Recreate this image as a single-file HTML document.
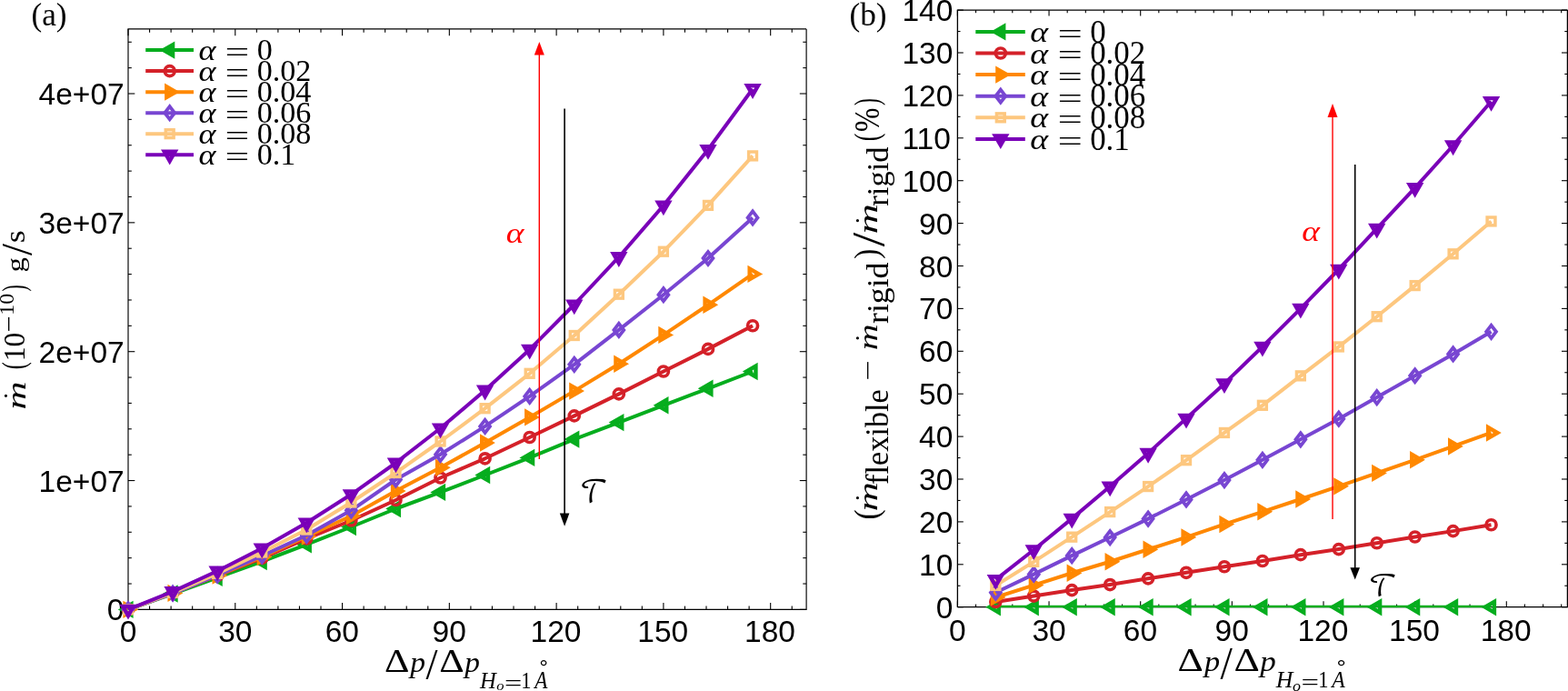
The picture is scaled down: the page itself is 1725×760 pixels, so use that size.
<!DOCTYPE html>
<html><head><meta charset="utf-8"><title>figure</title>
<style>html,body{margin:0;padding:0;background:#fff;overflow:hidden;} svg{display:block;}</style></head>
<body><svg width="1725" height="760" viewBox="0 0 1725 760">
<defs><clipPath id="cl"><rect x="140.4" y="31.9" width="746.7" height="639.1"/></clipPath><clipPath id="cr"><rect x="1052.8000000000002" y="11.1" width="671.6" height="657.1"/></clipPath></defs>
<rect width="1725" height="760" fill="#fff"/>
<line x1="141.00" y1="670.4" x2="141.00" y2="663.1" stroke="#000" stroke-width="1.1"/><line x1="141.00" y1="31.9" x2="141.00" y2="39.199999999999996" stroke="#000" stroke-width="1.1"/><line x1="164.56" y1="670.4" x2="164.56" y2="666.6" stroke="#000" stroke-width="1.1"/><line x1="164.56" y1="31.9" x2="164.56" y2="35.699999999999996" stroke="#000" stroke-width="1.1"/><line x1="188.11" y1="670.4" x2="188.11" y2="666.6" stroke="#000" stroke-width="1.1"/><line x1="188.11" y1="31.9" x2="188.11" y2="35.699999999999996" stroke="#000" stroke-width="1.1"/><line x1="211.67" y1="670.4" x2="211.67" y2="666.6" stroke="#000" stroke-width="1.1"/><line x1="211.67" y1="31.9" x2="211.67" y2="35.699999999999996" stroke="#000" stroke-width="1.1"/><line x1="235.22" y1="670.4" x2="235.22" y2="666.6" stroke="#000" stroke-width="1.1"/><line x1="235.22" y1="31.9" x2="235.22" y2="35.699999999999996" stroke="#000" stroke-width="1.1"/><line x1="258.78" y1="670.4" x2="258.78" y2="663.1" stroke="#000" stroke-width="1.1"/><line x1="258.78" y1="31.9" x2="258.78" y2="39.199999999999996" stroke="#000" stroke-width="1.1"/><line x1="282.34" y1="670.4" x2="282.34" y2="666.6" stroke="#000" stroke-width="1.1"/><line x1="282.34" y1="31.9" x2="282.34" y2="35.699999999999996" stroke="#000" stroke-width="1.1"/><line x1="305.89" y1="670.4" x2="305.89" y2="666.6" stroke="#000" stroke-width="1.1"/><line x1="305.89" y1="31.9" x2="305.89" y2="35.699999999999996" stroke="#000" stroke-width="1.1"/><line x1="329.45" y1="670.4" x2="329.45" y2="666.6" stroke="#000" stroke-width="1.1"/><line x1="329.45" y1="31.9" x2="329.45" y2="35.699999999999996" stroke="#000" stroke-width="1.1"/><line x1="353.00" y1="670.4" x2="353.00" y2="666.6" stroke="#000" stroke-width="1.1"/><line x1="353.00" y1="31.9" x2="353.00" y2="35.699999999999996" stroke="#000" stroke-width="1.1"/><line x1="376.56" y1="670.4" x2="376.56" y2="663.1" stroke="#000" stroke-width="1.1"/><line x1="376.56" y1="31.9" x2="376.56" y2="39.199999999999996" stroke="#000" stroke-width="1.1"/><line x1="400.12" y1="670.4" x2="400.12" y2="666.6" stroke="#000" stroke-width="1.1"/><line x1="400.12" y1="31.9" x2="400.12" y2="35.699999999999996" stroke="#000" stroke-width="1.1"/><line x1="423.67" y1="670.4" x2="423.67" y2="666.6" stroke="#000" stroke-width="1.1"/><line x1="423.67" y1="31.9" x2="423.67" y2="35.699999999999996" stroke="#000" stroke-width="1.1"/><line x1="447.23" y1="670.4" x2="447.23" y2="666.6" stroke="#000" stroke-width="1.1"/><line x1="447.23" y1="31.9" x2="447.23" y2="35.699999999999996" stroke="#000" stroke-width="1.1"/><line x1="470.78" y1="670.4" x2="470.78" y2="666.6" stroke="#000" stroke-width="1.1"/><line x1="470.78" y1="31.9" x2="470.78" y2="35.699999999999996" stroke="#000" stroke-width="1.1"/><line x1="494.34" y1="670.4" x2="494.34" y2="663.1" stroke="#000" stroke-width="1.1"/><line x1="494.34" y1="31.9" x2="494.34" y2="39.199999999999996" stroke="#000" stroke-width="1.1"/><line x1="517.90" y1="670.4" x2="517.90" y2="666.6" stroke="#000" stroke-width="1.1"/><line x1="517.90" y1="31.9" x2="517.90" y2="35.699999999999996" stroke="#000" stroke-width="1.1"/><line x1="541.45" y1="670.4" x2="541.45" y2="666.6" stroke="#000" stroke-width="1.1"/><line x1="541.45" y1="31.9" x2="541.45" y2="35.699999999999996" stroke="#000" stroke-width="1.1"/><line x1="565.01" y1="670.4" x2="565.01" y2="666.6" stroke="#000" stroke-width="1.1"/><line x1="565.01" y1="31.9" x2="565.01" y2="35.699999999999996" stroke="#000" stroke-width="1.1"/><line x1="588.56" y1="670.4" x2="588.56" y2="666.6" stroke="#000" stroke-width="1.1"/><line x1="588.56" y1="31.9" x2="588.56" y2="35.699999999999996" stroke="#000" stroke-width="1.1"/><line x1="612.12" y1="670.4" x2="612.12" y2="663.1" stroke="#000" stroke-width="1.1"/><line x1="612.12" y1="31.9" x2="612.12" y2="39.199999999999996" stroke="#000" stroke-width="1.1"/><line x1="635.68" y1="670.4" x2="635.68" y2="666.6" stroke="#000" stroke-width="1.1"/><line x1="635.68" y1="31.9" x2="635.68" y2="35.699999999999996" stroke="#000" stroke-width="1.1"/><line x1="659.23" y1="670.4" x2="659.23" y2="666.6" stroke="#000" stroke-width="1.1"/><line x1="659.23" y1="31.9" x2="659.23" y2="35.699999999999996" stroke="#000" stroke-width="1.1"/><line x1="682.79" y1="670.4" x2="682.79" y2="666.6" stroke="#000" stroke-width="1.1"/><line x1="682.79" y1="31.9" x2="682.79" y2="35.699999999999996" stroke="#000" stroke-width="1.1"/><line x1="706.34" y1="670.4" x2="706.34" y2="666.6" stroke="#000" stroke-width="1.1"/><line x1="706.34" y1="31.9" x2="706.34" y2="35.699999999999996" stroke="#000" stroke-width="1.1"/><line x1="729.90" y1="670.4" x2="729.90" y2="663.1" stroke="#000" stroke-width="1.1"/><line x1="729.90" y1="31.9" x2="729.90" y2="39.199999999999996" stroke="#000" stroke-width="1.1"/><line x1="753.46" y1="670.4" x2="753.46" y2="666.6" stroke="#000" stroke-width="1.1"/><line x1="753.46" y1="31.9" x2="753.46" y2="35.699999999999996" stroke="#000" stroke-width="1.1"/><line x1="777.01" y1="670.4" x2="777.01" y2="666.6" stroke="#000" stroke-width="1.1"/><line x1="777.01" y1="31.9" x2="777.01" y2="35.699999999999996" stroke="#000" stroke-width="1.1"/><line x1="800.57" y1="670.4" x2="800.57" y2="666.6" stroke="#000" stroke-width="1.1"/><line x1="800.57" y1="31.9" x2="800.57" y2="35.699999999999996" stroke="#000" stroke-width="1.1"/><line x1="824.12" y1="670.4" x2="824.12" y2="666.6" stroke="#000" stroke-width="1.1"/><line x1="824.12" y1="31.9" x2="824.12" y2="35.699999999999996" stroke="#000" stroke-width="1.1"/><line x1="847.68" y1="670.4" x2="847.68" y2="663.1" stroke="#000" stroke-width="1.1"/><line x1="847.68" y1="31.9" x2="847.68" y2="39.199999999999996" stroke="#000" stroke-width="1.1"/><line x1="871.24" y1="670.4" x2="871.24" y2="666.6" stroke="#000" stroke-width="1.1"/><line x1="871.24" y1="31.9" x2="871.24" y2="35.699999999999996" stroke="#000" stroke-width="1.1"/><line x1="141.0" y1="670.40" x2="148.3" y2="670.40" stroke="#000" stroke-width="1.1"/><line x1="887.1" y1="670.40" x2="879.8000000000001" y2="670.40" stroke="#000" stroke-width="1.1"/><line x1="141.0" y1="642.03" x2="144.8" y2="642.03" stroke="#000" stroke-width="1.1"/><line x1="887.1" y1="642.03" x2="883.3000000000001" y2="642.03" stroke="#000" stroke-width="1.1"/><line x1="141.0" y1="613.66" x2="144.8" y2="613.66" stroke="#000" stroke-width="1.1"/><line x1="887.1" y1="613.66" x2="883.3000000000001" y2="613.66" stroke="#000" stroke-width="1.1"/><line x1="141.0" y1="585.29" x2="144.8" y2="585.29" stroke="#000" stroke-width="1.1"/><line x1="887.1" y1="585.29" x2="883.3000000000001" y2="585.29" stroke="#000" stroke-width="1.1"/><line x1="141.0" y1="556.92" x2="144.8" y2="556.92" stroke="#000" stroke-width="1.1"/><line x1="887.1" y1="556.92" x2="883.3000000000001" y2="556.92" stroke="#000" stroke-width="1.1"/><line x1="141.0" y1="528.55" x2="148.3" y2="528.55" stroke="#000" stroke-width="1.1"/><line x1="887.1" y1="528.55" x2="879.8000000000001" y2="528.55" stroke="#000" stroke-width="1.1"/><line x1="141.0" y1="500.18" x2="144.8" y2="500.18" stroke="#000" stroke-width="1.1"/><line x1="887.1" y1="500.18" x2="883.3000000000001" y2="500.18" stroke="#000" stroke-width="1.1"/><line x1="141.0" y1="471.81" x2="144.8" y2="471.81" stroke="#000" stroke-width="1.1"/><line x1="887.1" y1="471.81" x2="883.3000000000001" y2="471.81" stroke="#000" stroke-width="1.1"/><line x1="141.0" y1="443.44" x2="144.8" y2="443.44" stroke="#000" stroke-width="1.1"/><line x1="887.1" y1="443.44" x2="883.3000000000001" y2="443.44" stroke="#000" stroke-width="1.1"/><line x1="141.0" y1="415.07" x2="144.8" y2="415.07" stroke="#000" stroke-width="1.1"/><line x1="887.1" y1="415.07" x2="883.3000000000001" y2="415.07" stroke="#000" stroke-width="1.1"/><line x1="141.0" y1="386.70" x2="148.3" y2="386.70" stroke="#000" stroke-width="1.1"/><line x1="887.1" y1="386.70" x2="879.8000000000001" y2="386.70" stroke="#000" stroke-width="1.1"/><line x1="141.0" y1="358.33" x2="144.8" y2="358.33" stroke="#000" stroke-width="1.1"/><line x1="887.1" y1="358.33" x2="883.3000000000001" y2="358.33" stroke="#000" stroke-width="1.1"/><line x1="141.0" y1="329.96" x2="144.8" y2="329.96" stroke="#000" stroke-width="1.1"/><line x1="887.1" y1="329.96" x2="883.3000000000001" y2="329.96" stroke="#000" stroke-width="1.1"/><line x1="141.0" y1="301.59" x2="144.8" y2="301.59" stroke="#000" stroke-width="1.1"/><line x1="887.1" y1="301.59" x2="883.3000000000001" y2="301.59" stroke="#000" stroke-width="1.1"/><line x1="141.0" y1="273.22" x2="144.8" y2="273.22" stroke="#000" stroke-width="1.1"/><line x1="887.1" y1="273.22" x2="883.3000000000001" y2="273.22" stroke="#000" stroke-width="1.1"/><line x1="141.0" y1="244.85" x2="148.3" y2="244.85" stroke="#000" stroke-width="1.1"/><line x1="887.1" y1="244.85" x2="879.8000000000001" y2="244.85" stroke="#000" stroke-width="1.1"/><line x1="141.0" y1="216.48" x2="144.8" y2="216.48" stroke="#000" stroke-width="1.1"/><line x1="887.1" y1="216.48" x2="883.3000000000001" y2="216.48" stroke="#000" stroke-width="1.1"/><line x1="141.0" y1="188.11" x2="144.8" y2="188.11" stroke="#000" stroke-width="1.1"/><line x1="887.1" y1="188.11" x2="883.3000000000001" y2="188.11" stroke="#000" stroke-width="1.1"/><line x1="141.0" y1="159.74" x2="144.8" y2="159.74" stroke="#000" stroke-width="1.1"/><line x1="887.1" y1="159.74" x2="883.3000000000001" y2="159.74" stroke="#000" stroke-width="1.1"/><line x1="141.0" y1="131.37" x2="144.8" y2="131.37" stroke="#000" stroke-width="1.1"/><line x1="887.1" y1="131.37" x2="883.3000000000001" y2="131.37" stroke="#000" stroke-width="1.1"/><line x1="141.0" y1="103.00" x2="148.3" y2="103.00" stroke="#000" stroke-width="1.1"/><line x1="887.1" y1="103.00" x2="879.8000000000001" y2="103.00" stroke="#000" stroke-width="1.1"/><line x1="141.0" y1="74.63" x2="144.8" y2="74.63" stroke="#000" stroke-width="1.1"/><line x1="887.1" y1="74.63" x2="883.3000000000001" y2="74.63" stroke="#000" stroke-width="1.1"/><line x1="141.0" y1="46.26" x2="144.8" y2="46.26" stroke="#000" stroke-width="1.1"/><line x1="887.1" y1="46.26" x2="883.3000000000001" y2="46.26" stroke="#000" stroke-width="1.1"/><path d="M141.0,670.4 V31.9 H887.1" fill="none" stroke="#000" stroke-width="1.15"/><path d="M141.0,670.4 H887.1 V31.9" fill="none" stroke="#000" stroke-width="1.15"/>
<line x1="1053.40" y1="667.7" x2="1053.40" y2="661.3000000000001" stroke="#000" stroke-width="1.1"/><line x1="1053.40" y1="11.1" x2="1053.40" y2="17.5" stroke="#000" stroke-width="1.1"/><line x1="1073.53" y1="667.7" x2="1073.53" y2="664.6" stroke="#000" stroke-width="1.1"/><line x1="1073.53" y1="11.1" x2="1073.53" y2="14.2" stroke="#000" stroke-width="1.1"/><line x1="1093.66" y1="667.7" x2="1093.66" y2="664.6" stroke="#000" stroke-width="1.1"/><line x1="1093.66" y1="11.1" x2="1093.66" y2="14.2" stroke="#000" stroke-width="1.1"/><line x1="1113.79" y1="667.7" x2="1113.79" y2="664.6" stroke="#000" stroke-width="1.1"/><line x1="1113.79" y1="11.1" x2="1113.79" y2="14.2" stroke="#000" stroke-width="1.1"/><line x1="1133.92" y1="667.7" x2="1133.92" y2="664.6" stroke="#000" stroke-width="1.1"/><line x1="1133.92" y1="11.1" x2="1133.92" y2="14.2" stroke="#000" stroke-width="1.1"/><line x1="1154.05" y1="667.7" x2="1154.05" y2="661.3000000000001" stroke="#000" stroke-width="1.1"/><line x1="1154.05" y1="11.1" x2="1154.05" y2="17.5" stroke="#000" stroke-width="1.1"/><line x1="1174.18" y1="667.7" x2="1174.18" y2="664.6" stroke="#000" stroke-width="1.1"/><line x1="1174.18" y1="11.1" x2="1174.18" y2="14.2" stroke="#000" stroke-width="1.1"/><line x1="1194.31" y1="667.7" x2="1194.31" y2="664.6" stroke="#000" stroke-width="1.1"/><line x1="1194.31" y1="11.1" x2="1194.31" y2="14.2" stroke="#000" stroke-width="1.1"/><line x1="1214.44" y1="667.7" x2="1214.44" y2="664.6" stroke="#000" stroke-width="1.1"/><line x1="1214.44" y1="11.1" x2="1214.44" y2="14.2" stroke="#000" stroke-width="1.1"/><line x1="1234.57" y1="667.7" x2="1234.57" y2="664.6" stroke="#000" stroke-width="1.1"/><line x1="1234.57" y1="11.1" x2="1234.57" y2="14.2" stroke="#000" stroke-width="1.1"/><line x1="1254.70" y1="667.7" x2="1254.70" y2="661.3000000000001" stroke="#000" stroke-width="1.1"/><line x1="1254.70" y1="11.1" x2="1254.70" y2="17.5" stroke="#000" stroke-width="1.1"/><line x1="1274.83" y1="667.7" x2="1274.83" y2="664.6" stroke="#000" stroke-width="1.1"/><line x1="1274.83" y1="11.1" x2="1274.83" y2="14.2" stroke="#000" stroke-width="1.1"/><line x1="1294.96" y1="667.7" x2="1294.96" y2="664.6" stroke="#000" stroke-width="1.1"/><line x1="1294.96" y1="11.1" x2="1294.96" y2="14.2" stroke="#000" stroke-width="1.1"/><line x1="1315.09" y1="667.7" x2="1315.09" y2="664.6" stroke="#000" stroke-width="1.1"/><line x1="1315.09" y1="11.1" x2="1315.09" y2="14.2" stroke="#000" stroke-width="1.1"/><line x1="1335.22" y1="667.7" x2="1335.22" y2="664.6" stroke="#000" stroke-width="1.1"/><line x1="1335.22" y1="11.1" x2="1335.22" y2="14.2" stroke="#000" stroke-width="1.1"/><line x1="1355.35" y1="667.7" x2="1355.35" y2="661.3000000000001" stroke="#000" stroke-width="1.1"/><line x1="1355.35" y1="11.1" x2="1355.35" y2="17.5" stroke="#000" stroke-width="1.1"/><line x1="1375.48" y1="667.7" x2="1375.48" y2="664.6" stroke="#000" stroke-width="1.1"/><line x1="1375.48" y1="11.1" x2="1375.48" y2="14.2" stroke="#000" stroke-width="1.1"/><line x1="1395.61" y1="667.7" x2="1395.61" y2="664.6" stroke="#000" stroke-width="1.1"/><line x1="1395.61" y1="11.1" x2="1395.61" y2="14.2" stroke="#000" stroke-width="1.1"/><line x1="1415.74" y1="667.7" x2="1415.74" y2="664.6" stroke="#000" stroke-width="1.1"/><line x1="1415.74" y1="11.1" x2="1415.74" y2="14.2" stroke="#000" stroke-width="1.1"/><line x1="1435.87" y1="667.7" x2="1435.87" y2="664.6" stroke="#000" stroke-width="1.1"/><line x1="1435.87" y1="11.1" x2="1435.87" y2="14.2" stroke="#000" stroke-width="1.1"/><line x1="1456.00" y1="667.7" x2="1456.00" y2="661.3000000000001" stroke="#000" stroke-width="1.1"/><line x1="1456.00" y1="11.1" x2="1456.00" y2="17.5" stroke="#000" stroke-width="1.1"/><line x1="1476.13" y1="667.7" x2="1476.13" y2="664.6" stroke="#000" stroke-width="1.1"/><line x1="1476.13" y1="11.1" x2="1476.13" y2="14.2" stroke="#000" stroke-width="1.1"/><line x1="1496.26" y1="667.7" x2="1496.26" y2="664.6" stroke="#000" stroke-width="1.1"/><line x1="1496.26" y1="11.1" x2="1496.26" y2="14.2" stroke="#000" stroke-width="1.1"/><line x1="1516.39" y1="667.7" x2="1516.39" y2="664.6" stroke="#000" stroke-width="1.1"/><line x1="1516.39" y1="11.1" x2="1516.39" y2="14.2" stroke="#000" stroke-width="1.1"/><line x1="1536.52" y1="667.7" x2="1536.52" y2="664.6" stroke="#000" stroke-width="1.1"/><line x1="1536.52" y1="11.1" x2="1536.52" y2="14.2" stroke="#000" stroke-width="1.1"/><line x1="1556.65" y1="667.7" x2="1556.65" y2="661.3000000000001" stroke="#000" stroke-width="1.1"/><line x1="1556.65" y1="11.1" x2="1556.65" y2="17.5" stroke="#000" stroke-width="1.1"/><line x1="1576.78" y1="667.7" x2="1576.78" y2="664.6" stroke="#000" stroke-width="1.1"/><line x1="1576.78" y1="11.1" x2="1576.78" y2="14.2" stroke="#000" stroke-width="1.1"/><line x1="1596.91" y1="667.7" x2="1596.91" y2="664.6" stroke="#000" stroke-width="1.1"/><line x1="1596.91" y1="11.1" x2="1596.91" y2="14.2" stroke="#000" stroke-width="1.1"/><line x1="1617.04" y1="667.7" x2="1617.04" y2="664.6" stroke="#000" stroke-width="1.1"/><line x1="1617.04" y1="11.1" x2="1617.04" y2="14.2" stroke="#000" stroke-width="1.1"/><line x1="1637.17" y1="667.7" x2="1637.17" y2="664.6" stroke="#000" stroke-width="1.1"/><line x1="1637.17" y1="11.1" x2="1637.17" y2="14.2" stroke="#000" stroke-width="1.1"/><line x1="1657.30" y1="667.7" x2="1657.30" y2="661.3000000000001" stroke="#000" stroke-width="1.1"/><line x1="1657.30" y1="11.1" x2="1657.30" y2="17.5" stroke="#000" stroke-width="1.1"/><line x1="1677.43" y1="667.7" x2="1677.43" y2="664.6" stroke="#000" stroke-width="1.1"/><line x1="1677.43" y1="11.1" x2="1677.43" y2="14.2" stroke="#000" stroke-width="1.1"/><line x1="1697.56" y1="667.7" x2="1697.56" y2="664.6" stroke="#000" stroke-width="1.1"/><line x1="1697.56" y1="11.1" x2="1697.56" y2="14.2" stroke="#000" stroke-width="1.1"/><line x1="1717.69" y1="667.7" x2="1717.69" y2="664.6" stroke="#000" stroke-width="1.1"/><line x1="1717.69" y1="11.1" x2="1717.69" y2="14.2" stroke="#000" stroke-width="1.1"/><line x1="1053.4" y1="667.70" x2="1059.8000000000002" y2="667.70" stroke="#000" stroke-width="1.1"/><line x1="1724.4" y1="667.70" x2="1718.0" y2="667.70" stroke="#000" stroke-width="1.1"/><line x1="1053.4" y1="644.25" x2="1056.5" y2="644.25" stroke="#000" stroke-width="1.1"/><line x1="1724.4" y1="644.25" x2="1721.3000000000002" y2="644.25" stroke="#000" stroke-width="1.1"/><line x1="1053.4" y1="620.80" x2="1059.8000000000002" y2="620.80" stroke="#000" stroke-width="1.1"/><line x1="1724.4" y1="620.80" x2="1718.0" y2="620.80" stroke="#000" stroke-width="1.1"/><line x1="1053.4" y1="597.35" x2="1056.5" y2="597.35" stroke="#000" stroke-width="1.1"/><line x1="1724.4" y1="597.35" x2="1721.3000000000002" y2="597.35" stroke="#000" stroke-width="1.1"/><line x1="1053.4" y1="573.90" x2="1059.8000000000002" y2="573.90" stroke="#000" stroke-width="1.1"/><line x1="1724.4" y1="573.90" x2="1718.0" y2="573.90" stroke="#000" stroke-width="1.1"/><line x1="1053.4" y1="550.45" x2="1056.5" y2="550.45" stroke="#000" stroke-width="1.1"/><line x1="1724.4" y1="550.45" x2="1721.3000000000002" y2="550.45" stroke="#000" stroke-width="1.1"/><line x1="1053.4" y1="527.00" x2="1059.8000000000002" y2="527.00" stroke="#000" stroke-width="1.1"/><line x1="1724.4" y1="527.00" x2="1718.0" y2="527.00" stroke="#000" stroke-width="1.1"/><line x1="1053.4" y1="503.55" x2="1056.5" y2="503.55" stroke="#000" stroke-width="1.1"/><line x1="1724.4" y1="503.55" x2="1721.3000000000002" y2="503.55" stroke="#000" stroke-width="1.1"/><line x1="1053.4" y1="480.10" x2="1059.8000000000002" y2="480.10" stroke="#000" stroke-width="1.1"/><line x1="1724.4" y1="480.10" x2="1718.0" y2="480.10" stroke="#000" stroke-width="1.1"/><line x1="1053.4" y1="456.65" x2="1056.5" y2="456.65" stroke="#000" stroke-width="1.1"/><line x1="1724.4" y1="456.65" x2="1721.3000000000002" y2="456.65" stroke="#000" stroke-width="1.1"/><line x1="1053.4" y1="433.20" x2="1059.8000000000002" y2="433.20" stroke="#000" stroke-width="1.1"/><line x1="1724.4" y1="433.20" x2="1718.0" y2="433.20" stroke="#000" stroke-width="1.1"/><line x1="1053.4" y1="409.75" x2="1056.5" y2="409.75" stroke="#000" stroke-width="1.1"/><line x1="1724.4" y1="409.75" x2="1721.3000000000002" y2="409.75" stroke="#000" stroke-width="1.1"/><line x1="1053.4" y1="386.30" x2="1059.8000000000002" y2="386.30" stroke="#000" stroke-width="1.1"/><line x1="1724.4" y1="386.30" x2="1718.0" y2="386.30" stroke="#000" stroke-width="1.1"/><line x1="1053.4" y1="362.85" x2="1056.5" y2="362.85" stroke="#000" stroke-width="1.1"/><line x1="1724.4" y1="362.85" x2="1721.3000000000002" y2="362.85" stroke="#000" stroke-width="1.1"/><line x1="1053.4" y1="339.40" x2="1059.8000000000002" y2="339.40" stroke="#000" stroke-width="1.1"/><line x1="1724.4" y1="339.40" x2="1718.0" y2="339.40" stroke="#000" stroke-width="1.1"/><line x1="1053.4" y1="315.95" x2="1056.5" y2="315.95" stroke="#000" stroke-width="1.1"/><line x1="1724.4" y1="315.95" x2="1721.3000000000002" y2="315.95" stroke="#000" stroke-width="1.1"/><line x1="1053.4" y1="292.50" x2="1059.8000000000002" y2="292.50" stroke="#000" stroke-width="1.1"/><line x1="1724.4" y1="292.50" x2="1718.0" y2="292.50" stroke="#000" stroke-width="1.1"/><line x1="1053.4" y1="269.05" x2="1056.5" y2="269.05" stroke="#000" stroke-width="1.1"/><line x1="1724.4" y1="269.05" x2="1721.3000000000002" y2="269.05" stroke="#000" stroke-width="1.1"/><line x1="1053.4" y1="245.60" x2="1059.8000000000002" y2="245.60" stroke="#000" stroke-width="1.1"/><line x1="1724.4" y1="245.60" x2="1718.0" y2="245.60" stroke="#000" stroke-width="1.1"/><line x1="1053.4" y1="222.15" x2="1056.5" y2="222.15" stroke="#000" stroke-width="1.1"/><line x1="1724.4" y1="222.15" x2="1721.3000000000002" y2="222.15" stroke="#000" stroke-width="1.1"/><line x1="1053.4" y1="198.70" x2="1059.8000000000002" y2="198.70" stroke="#000" stroke-width="1.1"/><line x1="1724.4" y1="198.70" x2="1718.0" y2="198.70" stroke="#000" stroke-width="1.1"/><line x1="1053.4" y1="175.25" x2="1056.5" y2="175.25" stroke="#000" stroke-width="1.1"/><line x1="1724.4" y1="175.25" x2="1721.3000000000002" y2="175.25" stroke="#000" stroke-width="1.1"/><line x1="1053.4" y1="151.80" x2="1059.8000000000002" y2="151.80" stroke="#000" stroke-width="1.1"/><line x1="1724.4" y1="151.80" x2="1718.0" y2="151.80" stroke="#000" stroke-width="1.1"/><line x1="1053.4" y1="128.35" x2="1056.5" y2="128.35" stroke="#000" stroke-width="1.1"/><line x1="1724.4" y1="128.35" x2="1721.3000000000002" y2="128.35" stroke="#000" stroke-width="1.1"/><line x1="1053.4" y1="104.90" x2="1059.8000000000002" y2="104.90" stroke="#000" stroke-width="1.1"/><line x1="1724.4" y1="104.90" x2="1718.0" y2="104.90" stroke="#000" stroke-width="1.1"/><line x1="1053.4" y1="81.45" x2="1056.5" y2="81.45" stroke="#000" stroke-width="1.1"/><line x1="1724.4" y1="81.45" x2="1721.3000000000002" y2="81.45" stroke="#000" stroke-width="1.1"/><line x1="1053.4" y1="58.00" x2="1059.8000000000002" y2="58.00" stroke="#000" stroke-width="1.1"/><line x1="1724.4" y1="58.00" x2="1718.0" y2="58.00" stroke="#000" stroke-width="1.1"/><line x1="1053.4" y1="34.55" x2="1056.5" y2="34.55" stroke="#000" stroke-width="1.1"/><line x1="1724.4" y1="34.55" x2="1721.3000000000002" y2="34.55" stroke="#000" stroke-width="1.1"/><line x1="1053.4" y1="11.10" x2="1059.8000000000002" y2="11.10" stroke="#000" stroke-width="1.1"/><line x1="1724.4" y1="11.10" x2="1718.0" y2="11.10" stroke="#000" stroke-width="1.1"/><path d="M1053.4,667.7 V11.1 H1724.4" fill="none" stroke="#000" stroke-width="1.3"/><path d="M1053.4,667.7 H1724.4 V11.1" fill="none" stroke="#000" stroke-width="1.3"/>
<g style='font-family:"Liberation Sans",Arial,sans-serif;font-size:33.5px' fill="#000"><text x="131.68" y="706.30">0</text><text x="1044.08" y="705.40">0</text><text x="240.17" y="706.30">30</text><text x="1135.44" y="705.40">30</text><text x="357.73" y="706.30">60</text><text x="1235.87" y="705.40">60</text><text x="475.58" y="706.30">90</text><text x="1336.59" y="705.40">90</text><text x="583.55" y="706.30">120</text><text x="1427.43" y="705.40">120</text><text x="701.33" y="706.30">150</text><text x="1528.08" y="705.40">150</text><text x="819.11" y="706.30">180</text><text x="1628.73" y="705.40">180</text><text x="117.68" y="682.40">0</text><text x="42.60" y="540.55">1e+07</text><text x="42.60" y="398.70">2e+07</text><text x="42.60" y="256.85">3e+07</text><text x="42.60" y="115.00">4e+07</text><text x="1029.68" y="679.70">0</text><text x="1011.05" y="632.80">10</text><text x="1011.05" y="585.90">20</text><text x="1011.05" y="539.00">30</text><text x="1011.05" y="492.10">40</text><text x="1011.05" y="445.20">50</text><text x="1011.05" y="398.30">60</text><text x="1011.05" y="351.40">70</text><text x="1011.05" y="304.50">80</text><text x="1011.05" y="257.60">90</text><text x="992.42" y="210.70">100</text><text x="992.42" y="163.80">110</text><text x="992.42" y="116.90">120</text><text x="992.42" y="70.00">130</text><text x="992.42" y="23.10">140</text></g>
<polyline points="141.00,670.40 190.07,653.06 239.15,635.25 288.23,617.50 337.30,598.80 386.38,579.50 435.45,559.50 484.53,541.39 533.60,522.50 582.67,503.40 631.75,483.10 680.83,464.60 729.90,445.80 778.98,427.30 828.05,408.50" fill="none" stroke="#06AD1E" stroke-width="4" stroke-linejoin="round" clip-path="url(#cl)"/><polygon points="134.20,670.40 144.40,676.29 144.40,664.51" fill="none" stroke="#06AD1E" stroke-width="4.4" stroke-miterlimit="10"/><polygon points="183.27,653.06 193.47,658.95 193.47,647.17" fill="none" stroke="#06AD1E" stroke-width="4.4" stroke-miterlimit="10"/><polygon points="232.35,635.25 242.55,641.14 242.55,629.36" fill="none" stroke="#06AD1E" stroke-width="4.4" stroke-miterlimit="10"/><polygon points="281.43,617.50 291.62,623.39 291.62,611.61" fill="none" stroke="#06AD1E" stroke-width="4.4" stroke-miterlimit="10"/><polygon points="330.50,598.80 340.70,604.69 340.70,592.91" fill="none" stroke="#06AD1E" stroke-width="4.4" stroke-miterlimit="10"/><polygon points="379.57,579.50 389.77,585.39 389.77,573.61" fill="none" stroke="#06AD1E" stroke-width="4.4" stroke-miterlimit="10"/><polygon points="428.65,559.50 438.85,565.39 438.85,553.61" fill="none" stroke="#06AD1E" stroke-width="4.4" stroke-miterlimit="10"/><polygon points="477.73,541.39 487.93,547.28 487.93,535.50" fill="none" stroke="#06AD1E" stroke-width="4.4" stroke-miterlimit="10"/><polygon points="526.80,522.50 537.00,528.39 537.00,516.61" fill="none" stroke="#06AD1E" stroke-width="4.4" stroke-miterlimit="10"/><polygon points="575.88,503.40 586.07,509.29 586.07,497.51" fill="none" stroke="#06AD1E" stroke-width="4.4" stroke-miterlimit="10"/><polygon points="624.95,483.10 635.15,488.99 635.15,477.21" fill="none" stroke="#06AD1E" stroke-width="4.4" stroke-miterlimit="10"/><polygon points="674.03,464.60 684.23,470.49 684.23,458.71" fill="none" stroke="#06AD1E" stroke-width="4.4" stroke-miterlimit="10"/><polygon points="723.10,445.80 733.30,451.69 733.30,439.91" fill="none" stroke="#06AD1E" stroke-width="4.4" stroke-miterlimit="10"/><polygon points="772.18,427.30 782.38,433.19 782.38,421.41" fill="none" stroke="#06AD1E" stroke-width="4.4" stroke-miterlimit="10"/><polygon points="821.25,408.50 831.45,414.39 831.45,402.61" fill="none" stroke="#06AD1E" stroke-width="4.4" stroke-miterlimit="10"/>
<polyline points="141.00,670.40 190.07,652.19 239.15,633.15 288.23,613.80 337.30,592.50 386.38,572.50 435.45,550.00 484.53,525.50 533.60,504.30 582.67,481.00 631.75,457.40 680.83,433.40 729.90,408.50 778.98,383.90 828.05,358.20" fill="none" stroke="#D42129" stroke-width="4" stroke-linejoin="round" clip-path="url(#cl)"/><circle cx="141.00" cy="670.40" r="5.5" fill="none" stroke="#D42129" stroke-width="3.65"/><circle cx="190.07" cy="652.19" r="5.5" fill="none" stroke="#D42129" stroke-width="3.65"/><circle cx="239.15" cy="633.15" r="5.5" fill="none" stroke="#D42129" stroke-width="3.65"/><circle cx="288.23" cy="613.80" r="5.5" fill="none" stroke="#D42129" stroke-width="3.65"/><circle cx="337.30" cy="592.50" r="5.5" fill="none" stroke="#D42129" stroke-width="3.65"/><circle cx="386.38" cy="572.50" r="5.5" fill="none" stroke="#D42129" stroke-width="3.65"/><circle cx="435.45" cy="550.00" r="5.5" fill="none" stroke="#D42129" stroke-width="3.65"/><circle cx="484.53" cy="525.50" r="5.5" fill="none" stroke="#D42129" stroke-width="3.65"/><circle cx="533.60" cy="504.30" r="5.5" fill="none" stroke="#D42129" stroke-width="3.65"/><circle cx="582.67" cy="481.00" r="5.5" fill="none" stroke="#D42129" stroke-width="3.65"/><circle cx="631.75" cy="457.40" r="5.5" fill="none" stroke="#D42129" stroke-width="3.65"/><circle cx="680.83" cy="433.40" r="5.5" fill="none" stroke="#D42129" stroke-width="3.65"/><circle cx="729.90" cy="408.50" r="5.5" fill="none" stroke="#D42129" stroke-width="3.65"/><circle cx="778.98" cy="383.90" r="5.5" fill="none" stroke="#D42129" stroke-width="3.65"/><circle cx="828.05" cy="358.20" r="5.5" fill="none" stroke="#D42129" stroke-width="3.65"/>
<polyline points="141.00,670.40 190.07,652.41 239.15,632.93 288.23,612.50 337.30,590.00 386.38,567.50 435.45,540.00 484.53,514.30 533.60,487.00 582.67,458.90 631.75,430.10 680.83,400.20 729.90,368.40 778.98,335.30 828.05,301.40" fill="none" stroke="#FF8800" stroke-width="4" stroke-linejoin="round" clip-path="url(#cl)"/><polygon points="147.80,670.40 137.60,676.29 137.60,664.51" fill="none" stroke="#FF8800" stroke-width="4.4" stroke-miterlimit="10"/><polygon points="196.88,652.41 186.67,658.30 186.67,646.52" fill="none" stroke="#FF8800" stroke-width="4.4" stroke-miterlimit="10"/><polygon points="245.95,632.93 235.75,638.82 235.75,627.04" fill="none" stroke="#FF8800" stroke-width="4.4" stroke-miterlimit="10"/><polygon points="295.03,612.50 284.83,618.39 284.83,606.61" fill="none" stroke="#FF8800" stroke-width="4.4" stroke-miterlimit="10"/><polygon points="344.10,590.00 333.90,595.89 333.90,584.11" fill="none" stroke="#FF8800" stroke-width="4.4" stroke-miterlimit="10"/><polygon points="393.18,567.50 382.98,573.39 382.98,561.61" fill="none" stroke="#FF8800" stroke-width="4.4" stroke-miterlimit="10"/><polygon points="442.25,540.00 432.05,545.89 432.05,534.11" fill="none" stroke="#FF8800" stroke-width="4.4" stroke-miterlimit="10"/><polygon points="491.33,514.30 481.13,520.19 481.13,508.41" fill="none" stroke="#FF8800" stroke-width="4.4" stroke-miterlimit="10"/><polygon points="540.40,487.00 530.20,492.89 530.20,481.11" fill="none" stroke="#FF8800" stroke-width="4.4" stroke-miterlimit="10"/><polygon points="589.47,458.90 579.27,464.79 579.27,453.01" fill="none" stroke="#FF8800" stroke-width="4.4" stroke-miterlimit="10"/><polygon points="638.55,430.10 628.35,435.99 628.35,424.21" fill="none" stroke="#FF8800" stroke-width="4.4" stroke-miterlimit="10"/><polygon points="687.62,400.20 677.43,406.09 677.43,394.31" fill="none" stroke="#FF8800" stroke-width="4.4" stroke-miterlimit="10"/><polygon points="736.70,368.40 726.50,374.29 726.50,362.51" fill="none" stroke="#FF8800" stroke-width="4.4" stroke-miterlimit="10"/><polygon points="785.77,335.30 775.58,341.19 775.58,329.41" fill="none" stroke="#FF8800" stroke-width="4.4" stroke-miterlimit="10"/><polygon points="834.85,301.40 824.65,307.29 824.65,295.51" fill="none" stroke="#FF8800" stroke-width="4.4" stroke-miterlimit="10"/>
<polyline points="141.00,670.40 190.07,652.61 239.15,632.60 288.23,611.30 337.30,588.80 386.38,561.30 435.45,527.50 484.53,499.80 533.60,468.90 582.67,435.90 631.75,400.80 680.83,362.90 729.90,324.20 778.98,284.00 828.05,239.40" fill="none" stroke="#7846D2" stroke-width="4" stroke-linejoin="round" clip-path="url(#cl)"/><polygon points="135.60,670.40 141.00,663.40 146.40,670.40 141.00,677.40" fill="none" stroke="#7846D2" stroke-width="3.8" stroke-miterlimit="10"/><polygon points="184.67,652.61 190.07,645.61 195.47,652.61 190.07,659.61" fill="none" stroke="#7846D2" stroke-width="3.8" stroke-miterlimit="10"/><polygon points="233.75,632.60 239.15,625.60 244.55,632.60 239.15,639.60" fill="none" stroke="#7846D2" stroke-width="3.8" stroke-miterlimit="10"/><polygon points="282.83,611.30 288.23,604.30 293.62,611.30 288.23,618.30" fill="none" stroke="#7846D2" stroke-width="3.8" stroke-miterlimit="10"/><polygon points="331.90,588.80 337.30,581.80 342.70,588.80 337.30,595.80" fill="none" stroke="#7846D2" stroke-width="3.8" stroke-miterlimit="10"/><polygon points="380.98,561.30 386.38,554.30 391.77,561.30 386.38,568.30" fill="none" stroke="#7846D2" stroke-width="3.8" stroke-miterlimit="10"/><polygon points="430.05,527.50 435.45,520.50 440.85,527.50 435.45,534.50" fill="none" stroke="#7846D2" stroke-width="3.8" stroke-miterlimit="10"/><polygon points="479.13,499.80 484.53,492.80 489.93,499.80 484.53,506.80" fill="none" stroke="#7846D2" stroke-width="3.8" stroke-miterlimit="10"/><polygon points="528.20,468.90 533.60,461.90 539.00,468.90 533.60,475.90" fill="none" stroke="#7846D2" stroke-width="3.8" stroke-miterlimit="10"/><polygon points="577.27,435.90 582.67,428.90 588.07,435.90 582.67,442.90" fill="none" stroke="#7846D2" stroke-width="3.8" stroke-miterlimit="10"/><polygon points="626.35,400.80 631.75,393.80 637.15,400.80 631.75,407.80" fill="none" stroke="#7846D2" stroke-width="3.8" stroke-miterlimit="10"/><polygon points="675.43,362.90 680.83,355.90 686.23,362.90 680.83,369.90" fill="none" stroke="#7846D2" stroke-width="3.8" stroke-miterlimit="10"/><polygon points="724.50,324.20 729.90,317.20 735.30,324.20 729.90,331.20" fill="none" stroke="#7846D2" stroke-width="3.8" stroke-miterlimit="10"/><polygon points="773.58,284.00 778.98,277.00 784.38,284.00 778.98,291.00" fill="none" stroke="#7846D2" stroke-width="3.8" stroke-miterlimit="10"/><polygon points="822.65,239.40 828.05,232.40 833.45,239.40 828.05,246.40" fill="none" stroke="#7846D2" stroke-width="3.8" stroke-miterlimit="10"/>
<polyline points="141.00,670.40 190.07,651.89 239.15,630.84 288.23,607.50 337.30,582.50 386.38,552.50 435.45,520.00 484.53,485.50 533.60,449.20 582.67,410.80 631.75,369.00 680.83,323.70 729.90,276.70 778.98,225.90 828.05,171.40" fill="none" stroke="#FDC77F" stroke-width="4" stroke-linejoin="round" clip-path="url(#cl)"/><rect x="136.60" y="666.00" width="8.80" height="8.80" fill="none" stroke="#FDC77F" stroke-width="3.5"/><rect x="185.67" y="647.49" width="8.80" height="8.80" fill="none" stroke="#FDC77F" stroke-width="3.5"/><rect x="234.75" y="626.44" width="8.80" height="8.80" fill="none" stroke="#FDC77F" stroke-width="3.5"/><rect x="283.83" y="603.10" width="8.80" height="8.80" fill="none" stroke="#FDC77F" stroke-width="3.5"/><rect x="332.90" y="578.10" width="8.80" height="8.80" fill="none" stroke="#FDC77F" stroke-width="3.5"/><rect x="381.98" y="548.10" width="8.80" height="8.80" fill="none" stroke="#FDC77F" stroke-width="3.5"/><rect x="431.05" y="515.60" width="8.80" height="8.80" fill="none" stroke="#FDC77F" stroke-width="3.5"/><rect x="480.13" y="481.10" width="8.80" height="8.80" fill="none" stroke="#FDC77F" stroke-width="3.5"/><rect x="529.20" y="444.80" width="8.80" height="8.80" fill="none" stroke="#FDC77F" stroke-width="3.5"/><rect x="578.27" y="406.40" width="8.80" height="8.80" fill="none" stroke="#FDC77F" stroke-width="3.5"/><rect x="627.35" y="364.60" width="8.80" height="8.80" fill="none" stroke="#FDC77F" stroke-width="3.5"/><rect x="676.43" y="319.30" width="8.80" height="8.80" fill="none" stroke="#FDC77F" stroke-width="3.5"/><rect x="725.50" y="272.30" width="8.80" height="8.80" fill="none" stroke="#FDC77F" stroke-width="3.5"/><rect x="774.58" y="221.50" width="8.80" height="8.80" fill="none" stroke="#FDC77F" stroke-width="3.5"/><rect x="823.65" y="167.00" width="8.80" height="8.80" fill="none" stroke="#FDC77F" stroke-width="3.5"/>
<polyline points="141.00,670.40 190.07,650.60 239.15,628.00 288.23,603.00 337.30,575.00 386.38,543.80 435.45,509.00 484.53,471.00 533.60,429.20 582.67,384.40 631.75,335.00 680.83,282.70 729.90,226.00 778.98,164.50 828.05,97.70" fill="none" stroke="#7A00B8" stroke-width="4" stroke-linejoin="round" clip-path="url(#cl)"/><polygon points="135.11,667.00 146.89,667.00 141.00,677.20" fill="none" stroke="#7A00B8" stroke-width="4.4" stroke-miterlimit="10"/><polygon points="184.19,647.20 195.96,647.20 190.07,657.40" fill="none" stroke="#7A00B8" stroke-width="4.4" stroke-miterlimit="10"/><polygon points="233.26,624.60 245.04,624.60 239.15,634.80" fill="none" stroke="#7A00B8" stroke-width="4.4" stroke-miterlimit="10"/><polygon points="282.34,599.60 294.11,599.60 288.23,609.80" fill="none" stroke="#7A00B8" stroke-width="4.4" stroke-miterlimit="10"/><polygon points="331.41,571.60 343.19,571.60 337.30,581.80" fill="none" stroke="#7A00B8" stroke-width="4.4" stroke-miterlimit="10"/><polygon points="380.49,540.40 392.26,540.40 386.38,550.60" fill="none" stroke="#7A00B8" stroke-width="4.4" stroke-miterlimit="10"/><polygon points="429.56,505.60 441.34,505.60 435.45,515.80" fill="none" stroke="#7A00B8" stroke-width="4.4" stroke-miterlimit="10"/><polygon points="478.64,467.60 490.41,467.60 484.53,477.80" fill="none" stroke="#7A00B8" stroke-width="4.4" stroke-miterlimit="10"/><polygon points="527.71,425.80 539.49,425.80 533.60,436.00" fill="none" stroke="#7A00B8" stroke-width="4.4" stroke-miterlimit="10"/><polygon points="576.79,381.00 588.56,381.00 582.67,391.20" fill="none" stroke="#7A00B8" stroke-width="4.4" stroke-miterlimit="10"/><polygon points="625.86,331.60 637.64,331.60 631.75,341.80" fill="none" stroke="#7A00B8" stroke-width="4.4" stroke-miterlimit="10"/><polygon points="674.94,279.30 686.71,279.30 680.83,289.50" fill="none" stroke="#7A00B8" stroke-width="4.4" stroke-miterlimit="10"/><polygon points="724.01,222.60 735.79,222.60 729.90,232.80" fill="none" stroke="#7A00B8" stroke-width="4.4" stroke-miterlimit="10"/><polygon points="773.09,161.10 784.86,161.10 778.98,171.30" fill="none" stroke="#7A00B8" stroke-width="4.4" stroke-miterlimit="10"/><polygon points="822.16,94.30 833.94,94.30 828.05,104.50" fill="none" stroke="#7A00B8" stroke-width="4.4" stroke-miterlimit="10"/>
<polyline points="1095.34,667.70 1137.28,667.70 1179.21,667.70 1221.15,667.70 1263.09,667.70 1305.03,667.70 1346.96,667.70 1388.90,667.70 1430.84,667.70 1472.78,667.70 1514.71,667.70 1556.65,667.70 1598.59,667.70 1640.53,667.70" fill="none" stroke="#06AD1E" stroke-width="4" stroke-linejoin="round" clip-path="url(#cr)"/><polygon points="1088.54,667.70 1098.74,673.59 1098.74,661.81" fill="none" stroke="#06AD1E" stroke-width="4.4" stroke-miterlimit="10"/><polygon points="1130.48,667.70 1140.68,673.59 1140.68,661.81" fill="none" stroke="#06AD1E" stroke-width="4.4" stroke-miterlimit="10"/><polygon points="1172.41,667.70 1182.61,673.59 1182.61,661.81" fill="none" stroke="#06AD1E" stroke-width="4.4" stroke-miterlimit="10"/><polygon points="1214.35,667.70 1224.55,673.59 1224.55,661.81" fill="none" stroke="#06AD1E" stroke-width="4.4" stroke-miterlimit="10"/><polygon points="1256.29,667.70 1266.49,673.59 1266.49,661.81" fill="none" stroke="#06AD1E" stroke-width="4.4" stroke-miterlimit="10"/><polygon points="1298.23,667.70 1308.43,673.59 1308.43,661.81" fill="none" stroke="#06AD1E" stroke-width="4.4" stroke-miterlimit="10"/><polygon points="1340.16,667.70 1350.36,673.59 1350.36,661.81" fill="none" stroke="#06AD1E" stroke-width="4.4" stroke-miterlimit="10"/><polygon points="1382.10,667.70 1392.30,673.59 1392.30,661.81" fill="none" stroke="#06AD1E" stroke-width="4.4" stroke-miterlimit="10"/><polygon points="1424.04,667.70 1434.24,673.59 1434.24,661.81" fill="none" stroke="#06AD1E" stroke-width="4.4" stroke-miterlimit="10"/><polygon points="1465.98,667.70 1476.18,673.59 1476.18,661.81" fill="none" stroke="#06AD1E" stroke-width="4.4" stroke-miterlimit="10"/><polygon points="1507.91,667.70 1518.11,673.59 1518.11,661.81" fill="none" stroke="#06AD1E" stroke-width="4.4" stroke-miterlimit="10"/><polygon points="1549.85,667.70 1560.05,673.59 1560.05,661.81" fill="none" stroke="#06AD1E" stroke-width="4.4" stroke-miterlimit="10"/><polygon points="1591.79,667.70 1601.99,673.59 1601.99,661.81" fill="none" stroke="#06AD1E" stroke-width="4.4" stroke-miterlimit="10"/><polygon points="1633.73,667.70 1643.93,673.59 1643.93,661.81" fill="none" stroke="#06AD1E" stroke-width="4.4" stroke-miterlimit="10"/>
<polyline points="1095.34,662.02 1137.28,655.55 1179.21,649.07 1221.15,643.05 1263.09,636.32 1305.03,629.80 1346.96,623.28 1388.90,616.97 1430.84,610.19 1472.78,604.10 1514.71,597.29 1556.65,590.47 1598.59,584.11 1640.53,577.26" fill="none" stroke="#D42129" stroke-width="4" stroke-linejoin="round" clip-path="url(#cr)"/><circle cx="1095.34" cy="662.02" r="5.5" fill="none" stroke="#D42129" stroke-width="3.65"/><circle cx="1137.28" cy="655.55" r="5.5" fill="none" stroke="#D42129" stroke-width="3.65"/><circle cx="1179.21" cy="649.07" r="5.5" fill="none" stroke="#D42129" stroke-width="3.65"/><circle cx="1221.15" cy="643.05" r="5.5" fill="none" stroke="#D42129" stroke-width="3.65"/><circle cx="1263.09" cy="636.32" r="5.5" fill="none" stroke="#D42129" stroke-width="3.65"/><circle cx="1305.03" cy="629.80" r="5.5" fill="none" stroke="#D42129" stroke-width="3.65"/><circle cx="1346.96" cy="623.28" r="5.5" fill="none" stroke="#D42129" stroke-width="3.65"/><circle cx="1388.90" cy="616.97" r="5.5" fill="none" stroke="#D42129" stroke-width="3.65"/><circle cx="1430.84" cy="610.19" r="5.5" fill="none" stroke="#D42129" stroke-width="3.65"/><circle cx="1472.78" cy="604.10" r="5.5" fill="none" stroke="#D42129" stroke-width="3.65"/><circle cx="1514.71" cy="597.29" r="5.5" fill="none" stroke="#D42129" stroke-width="3.65"/><circle cx="1556.65" cy="590.47" r="5.5" fill="none" stroke="#D42129" stroke-width="3.65"/><circle cx="1598.59" cy="584.11" r="5.5" fill="none" stroke="#D42129" stroke-width="3.65"/><circle cx="1640.53" cy="577.26" r="5.5" fill="none" stroke="#D42129" stroke-width="3.65"/>
<polyline points="1095.34,657.02 1137.28,643.55 1179.21,630.23 1221.15,617.76 1263.09,604.27 1305.03,590.93 1346.96,576.56 1388.90,562.82 1430.84,548.98 1472.78,534.83 1514.71,520.36 1556.65,505.81 1598.59,490.93 1640.53,475.97" fill="none" stroke="#FF8800" stroke-width="4" stroke-linejoin="round" clip-path="url(#cr)"/><polygon points="1102.14,657.02 1091.94,662.91 1091.94,651.13" fill="none" stroke="#FF8800" stroke-width="4.4" stroke-miterlimit="10"/><polygon points="1144.08,643.55 1133.88,649.44 1133.88,637.66" fill="none" stroke="#FF8800" stroke-width="4.4" stroke-miterlimit="10"/><polygon points="1186.01,630.23 1175.81,636.12 1175.81,624.34" fill="none" stroke="#FF8800" stroke-width="4.4" stroke-miterlimit="10"/><polygon points="1227.95,617.76 1217.75,623.65 1217.75,611.87" fill="none" stroke="#FF8800" stroke-width="4.4" stroke-miterlimit="10"/><polygon points="1269.89,604.27 1259.69,610.16 1259.69,598.38" fill="none" stroke="#FF8800" stroke-width="4.4" stroke-miterlimit="10"/><polygon points="1311.83,590.93 1301.62,596.82 1301.62,585.04" fill="none" stroke="#FF8800" stroke-width="4.4" stroke-miterlimit="10"/><polygon points="1353.76,576.56 1343.56,582.45 1343.56,570.67" fill="none" stroke="#FF8800" stroke-width="4.4" stroke-miterlimit="10"/><polygon points="1395.70,562.82 1385.50,568.71 1385.50,556.93" fill="none" stroke="#FF8800" stroke-width="4.4" stroke-miterlimit="10"/><polygon points="1437.64,548.98 1427.44,554.87 1427.44,543.10" fill="none" stroke="#FF8800" stroke-width="4.4" stroke-miterlimit="10"/><polygon points="1479.58,534.83 1469.38,540.72 1469.38,528.94" fill="none" stroke="#FF8800" stroke-width="4.4" stroke-miterlimit="10"/><polygon points="1521.51,520.36 1511.31,526.25 1511.31,514.47" fill="none" stroke="#FF8800" stroke-width="4.4" stroke-miterlimit="10"/><polygon points="1563.45,505.81 1553.25,511.70 1553.25,499.92" fill="none" stroke="#FF8800" stroke-width="4.4" stroke-miterlimit="10"/><polygon points="1605.39,490.93 1595.19,496.82 1595.19,485.04" fill="none" stroke="#FF8800" stroke-width="4.4" stroke-miterlimit="10"/><polygon points="1647.33,475.97 1637.12,481.86 1637.12,470.08" fill="none" stroke="#FF8800" stroke-width="4.4" stroke-miterlimit="10"/>
<polyline points="1095.34,651.72 1137.28,631.64 1179.21,611.11 1221.15,591.07 1263.09,570.60 1305.03,549.45 1346.96,528.09 1388.90,505.82 1430.84,483.34 1472.78,460.65 1514.71,437.06 1556.65,413.25 1598.59,389.48 1640.53,364.79" fill="none" stroke="#7846D2" stroke-width="4" stroke-linejoin="round" clip-path="url(#cr)"/><polygon points="1089.94,651.72 1095.34,644.72 1100.74,651.72 1095.34,658.72" fill="none" stroke="#7846D2" stroke-width="3.8" stroke-miterlimit="10"/><polygon points="1131.88,631.64 1137.28,624.64 1142.68,631.64 1137.28,638.64" fill="none" stroke="#7846D2" stroke-width="3.8" stroke-miterlimit="10"/><polygon points="1173.81,611.11 1179.21,604.11 1184.61,611.11 1179.21,618.11" fill="none" stroke="#7846D2" stroke-width="3.8" stroke-miterlimit="10"/><polygon points="1215.75,591.07 1221.15,584.07 1226.55,591.07 1221.15,598.07" fill="none" stroke="#7846D2" stroke-width="3.8" stroke-miterlimit="10"/><polygon points="1257.69,570.60 1263.09,563.60 1268.49,570.60 1263.09,577.60" fill="none" stroke="#7846D2" stroke-width="3.8" stroke-miterlimit="10"/><polygon points="1299.62,549.45 1305.03,542.45 1310.43,549.45 1305.03,556.45" fill="none" stroke="#7846D2" stroke-width="3.8" stroke-miterlimit="10"/><polygon points="1341.56,528.09 1346.96,521.09 1352.36,528.09 1346.96,535.09" fill="none" stroke="#7846D2" stroke-width="3.8" stroke-miterlimit="10"/><polygon points="1383.50,505.82 1388.90,498.82 1394.30,505.82 1388.90,512.82" fill="none" stroke="#7846D2" stroke-width="3.8" stroke-miterlimit="10"/><polygon points="1425.44,483.34 1430.84,476.34 1436.24,483.34 1430.84,490.34" fill="none" stroke="#7846D2" stroke-width="3.8" stroke-miterlimit="10"/><polygon points="1467.38,460.65 1472.78,453.65 1478.18,460.65 1472.78,467.65" fill="none" stroke="#7846D2" stroke-width="3.8" stroke-miterlimit="10"/><polygon points="1509.31,437.06 1514.71,430.06 1520.11,437.06 1514.71,444.06" fill="none" stroke="#7846D2" stroke-width="3.8" stroke-miterlimit="10"/><polygon points="1551.25,413.25 1556.65,406.25 1562.05,413.25 1556.65,420.25" fill="none" stroke="#7846D2" stroke-width="3.8" stroke-miterlimit="10"/><polygon points="1593.19,389.48 1598.59,382.48 1603.99,389.48 1598.59,396.48" fill="none" stroke="#7846D2" stroke-width="3.8" stroke-miterlimit="10"/><polygon points="1635.12,364.79 1640.53,357.79 1645.93,364.79 1640.53,371.79" fill="none" stroke="#7846D2" stroke-width="3.8" stroke-miterlimit="10"/>
<polyline points="1095.34,643.94 1137.28,617.86 1179.21,590.67 1221.15,563.07 1263.09,535.06 1305.03,506.18 1346.96,475.96 1388.90,445.80 1430.84,413.36 1472.78,381.46 1514.71,348.20 1556.65,314.08 1598.59,279.31 1640.53,243.44" fill="none" stroke="#FDC77F" stroke-width="4" stroke-linejoin="round" clip-path="url(#cr)"/><rect x="1090.94" y="639.54" width="8.80" height="8.80" fill="none" stroke="#FDC77F" stroke-width="3.5"/><rect x="1132.88" y="613.46" width="8.80" height="8.80" fill="none" stroke="#FDC77F" stroke-width="3.5"/><rect x="1174.81" y="586.27" width="8.80" height="8.80" fill="none" stroke="#FDC77F" stroke-width="3.5"/><rect x="1216.75" y="558.67" width="8.80" height="8.80" fill="none" stroke="#FDC77F" stroke-width="3.5"/><rect x="1258.69" y="530.66" width="8.80" height="8.80" fill="none" stroke="#FDC77F" stroke-width="3.5"/><rect x="1300.62" y="501.78" width="8.80" height="8.80" fill="none" stroke="#FDC77F" stroke-width="3.5"/><rect x="1342.56" y="471.56" width="8.80" height="8.80" fill="none" stroke="#FDC77F" stroke-width="3.5"/><rect x="1384.50" y="441.40" width="8.80" height="8.80" fill="none" stroke="#FDC77F" stroke-width="3.5"/><rect x="1426.44" y="408.96" width="8.80" height="8.80" fill="none" stroke="#FDC77F" stroke-width="3.5"/><rect x="1468.38" y="377.06" width="8.80" height="8.80" fill="none" stroke="#FDC77F" stroke-width="3.5"/><rect x="1510.31" y="343.80" width="8.80" height="8.80" fill="none" stroke="#FDC77F" stroke-width="3.5"/><rect x="1552.25" y="309.68" width="8.80" height="8.80" fill="none" stroke="#FDC77F" stroke-width="3.5"/><rect x="1594.19" y="274.91" width="8.80" height="8.80" fill="none" stroke="#FDC77F" stroke-width="3.5"/><rect x="1636.12" y="239.04" width="8.80" height="8.80" fill="none" stroke="#FDC77F" stroke-width="3.5"/>
<polyline points="1095.34,637.59 1137.28,604.76 1179.21,570.35 1221.15,535.07 1263.09,498.46 1305.03,460.28 1346.96,421.92 1388.90,381.30 1430.84,339.33 1472.78,296.26 1514.71,251.39 1556.65,206.58 1598.59,159.97 1640.53,111.54" fill="none" stroke="#7A00B8" stroke-width="4" stroke-linejoin="round" clip-path="url(#cr)"/><polygon points="1089.45,634.19 1101.23,634.19 1095.34,644.39" fill="none" stroke="#7A00B8" stroke-width="4.4" stroke-miterlimit="10"/><polygon points="1131.39,601.36 1143.16,601.36 1137.28,611.56" fill="none" stroke="#7A00B8" stroke-width="4.4" stroke-miterlimit="10"/><polygon points="1173.32,566.95 1185.10,566.95 1179.21,577.15" fill="none" stroke="#7A00B8" stroke-width="4.4" stroke-miterlimit="10"/><polygon points="1215.26,531.67 1227.04,531.67 1221.15,541.87" fill="none" stroke="#7A00B8" stroke-width="4.4" stroke-miterlimit="10"/><polygon points="1257.20,495.06 1268.98,495.06 1263.09,505.26" fill="none" stroke="#7A00B8" stroke-width="4.4" stroke-miterlimit="10"/><polygon points="1299.14,456.88 1310.91,456.88 1305.03,467.08" fill="none" stroke="#7A00B8" stroke-width="4.4" stroke-miterlimit="10"/><polygon points="1341.07,418.52 1352.85,418.52 1346.96,428.72" fill="none" stroke="#7A00B8" stroke-width="4.4" stroke-miterlimit="10"/><polygon points="1383.01,377.90 1394.79,377.90 1388.90,388.10" fill="none" stroke="#7A00B8" stroke-width="4.4" stroke-miterlimit="10"/><polygon points="1424.95,335.93 1436.73,335.93 1430.84,346.13" fill="none" stroke="#7A00B8" stroke-width="4.4" stroke-miterlimit="10"/><polygon points="1466.89,292.86 1478.66,292.86 1472.78,303.06" fill="none" stroke="#7A00B8" stroke-width="4.4" stroke-miterlimit="10"/><polygon points="1508.82,247.99 1520.60,247.99 1514.71,258.19" fill="none" stroke="#7A00B8" stroke-width="4.4" stroke-miterlimit="10"/><polygon points="1550.76,203.18 1562.54,203.18 1556.65,213.38" fill="none" stroke="#7A00B8" stroke-width="4.4" stroke-miterlimit="10"/><polygon points="1592.70,156.57 1604.48,156.57 1598.59,166.77" fill="none" stroke="#7A00B8" stroke-width="4.4" stroke-miterlimit="10"/><polygon points="1634.64,108.14 1646.41,108.14 1640.53,118.34" fill="none" stroke="#7A00B8" stroke-width="4.4" stroke-miterlimit="10"/>
<line x1="160.2" y1="55.10" x2="213" y2="55.10" stroke="#06AD1E" stroke-width="4"/><polygon points="179.90,55.10 190.10,60.99 190.10,49.21" fill="none" stroke="#06AD1E" stroke-width="4.4" stroke-miterlimit="10"/><text transform="translate(218.42,65.69) scale(1.185,1.000)" style='font-family:"Liberation Serif","Times New Roman",serif;font-size:30.50px;font-style:italic' fill="#000">α</text><text transform="translate(247.43,68.04) scale(1.503,1.000)" style='font-family:"Liberation Serif","Times New Roman",serif;font-size:31.60px' fill="#000">=</text><text transform="translate(282.70,65.54) scale(1.043,1)" style='font-family:"Liberation Serif","Times New Roman",serif;font-size:32.69px' fill="#000">0</text><line x1="160.2" y1="78.12" x2="213" y2="78.12" stroke="#D42129" stroke-width="4"/><circle cx="186.70" cy="78.12" r="5.5" fill="none" stroke="#D42129" stroke-width="3.65"/><text transform="translate(218.42,88.71) scale(1.185,1.000)" style='font-family:"Liberation Serif","Times New Roman",serif;font-size:30.50px;font-style:italic' fill="#000">α</text><text transform="translate(247.43,91.06) scale(1.503,1.000)" style='font-family:"Liberation Serif","Times New Roman",serif;font-size:31.60px' fill="#000">=</text><text transform="translate(282.70,88.56) scale(1.043,1)" style='font-family:"Liberation Serif","Times New Roman",serif;font-size:32.69px' fill="#000">0.02</text><line x1="160.2" y1="101.14" x2="213" y2="101.14" stroke="#FF8800" stroke-width="4"/><polygon points="193.50,101.14 183.30,107.03 183.30,95.25" fill="none" stroke="#FF8800" stroke-width="4.4" stroke-miterlimit="10"/><text transform="translate(218.42,111.73) scale(1.185,1.000)" style='font-family:"Liberation Serif","Times New Roman",serif;font-size:30.50px;font-style:italic' fill="#000">α</text><text transform="translate(247.43,114.08) scale(1.503,1.000)" style='font-family:"Liberation Serif","Times New Roman",serif;font-size:31.60px' fill="#000">=</text><text transform="translate(282.70,111.58) scale(1.043,1)" style='font-family:"Liberation Serif","Times New Roman",serif;font-size:32.69px' fill="#000">0.04</text><line x1="160.2" y1="124.16" x2="213" y2="124.16" stroke="#7846D2" stroke-width="4"/><polygon points="181.30,124.16 186.70,117.16 192.10,124.16 186.70,131.16" fill="none" stroke="#7846D2" stroke-width="3.8" stroke-miterlimit="10"/><text transform="translate(218.42,134.75) scale(1.185,1.000)" style='font-family:"Liberation Serif","Times New Roman",serif;font-size:30.50px;font-style:italic' fill="#000">α</text><text transform="translate(247.43,137.10) scale(1.503,1.000)" style='font-family:"Liberation Serif","Times New Roman",serif;font-size:31.60px' fill="#000">=</text><text transform="translate(282.70,134.60) scale(1.043,1)" style='font-family:"Liberation Serif","Times New Roman",serif;font-size:32.69px' fill="#000">0.06</text><line x1="160.2" y1="147.18" x2="213" y2="147.18" stroke="#FDC77F" stroke-width="4"/><rect x="182.30" y="142.78" width="8.80" height="8.80" fill="none" stroke="#FDC77F" stroke-width="3.5"/><text transform="translate(218.42,157.77) scale(1.185,1.000)" style='font-family:"Liberation Serif","Times New Roman",serif;font-size:30.50px;font-style:italic' fill="#000">α</text><text transform="translate(247.43,160.12) scale(1.503,1.000)" style='font-family:"Liberation Serif","Times New Roman",serif;font-size:31.60px' fill="#000">=</text><text transform="translate(282.70,157.62) scale(1.043,1)" style='font-family:"Liberation Serif","Times New Roman",serif;font-size:32.69px' fill="#000">0.08</text><line x1="160.2" y1="170.20" x2="213" y2="170.20" stroke="#7A00B8" stroke-width="4"/><polygon points="180.81,166.80 192.59,166.80 186.70,177.00" fill="none" stroke="#7A00B8" stroke-width="4.4" stroke-miterlimit="10"/><text transform="translate(218.42,180.79) scale(1.185,1.000)" style='font-family:"Liberation Serif","Times New Roman",serif;font-size:30.50px;font-style:italic' fill="#000">α</text><text transform="translate(247.43,183.14) scale(1.503,1.000)" style='font-family:"Liberation Serif","Times New Roman",serif;font-size:31.60px' fill="#000">=</text><text transform="translate(282.70,180.64) scale(1.043,1)" style='font-family:"Liberation Serif","Times New Roman",serif;font-size:32.69px' fill="#000">0.1</text>
<line x1="1073.3" y1="34.90" x2="1127.8" y2="34.90" stroke="#06AD1E" stroke-width="4"/><polygon points="1094.00,34.90 1104.20,40.79 1104.20,29.01" fill="none" stroke="#06AD1E" stroke-width="4.4" stroke-miterlimit="10"/><text transform="translate(1133.28,46.07) scale(1.180,1.000)" style='font-family:"Liberation Serif","Times New Roman",serif;font-size:31.95px;font-style:italic' fill="#000">α</text><text transform="translate(1163.38,47.88) scale(1.577,1.000)" style='font-family:"Liberation Serif","Times New Roman",serif;font-size:30.80px' fill="#000">=</text><text transform="translate(1199.17,46.51) scale(1.000,1)" style='font-family:"Liberation Serif","Times New Roman",serif;font-size:34.89px' fill="#000">0</text><line x1="1073.3" y1="58.50" x2="1127.8" y2="58.50" stroke="#D42129" stroke-width="4"/><circle cx="1100.80" cy="58.50" r="5.5" fill="none" stroke="#D42129" stroke-width="3.65"/><text transform="translate(1133.28,69.67) scale(1.180,1.000)" style='font-family:"Liberation Serif","Times New Roman",serif;font-size:31.95px;font-style:italic' fill="#000">α</text><text transform="translate(1163.38,71.48) scale(1.577,1.000)" style='font-family:"Liberation Serif","Times New Roman",serif;font-size:30.80px' fill="#000">=</text><text transform="translate(1199.17,70.11) scale(1.000,1)" style='font-family:"Liberation Serif","Times New Roman",serif;font-size:34.89px' fill="#000">0.02</text><line x1="1073.3" y1="82.10" x2="1127.8" y2="82.10" stroke="#FF8800" stroke-width="4"/><polygon points="1107.60,82.10 1097.40,87.99 1097.40,76.21" fill="none" stroke="#FF8800" stroke-width="4.4" stroke-miterlimit="10"/><text transform="translate(1133.28,93.27) scale(1.180,1.000)" style='font-family:"Liberation Serif","Times New Roman",serif;font-size:31.95px;font-style:italic' fill="#000">α</text><text transform="translate(1163.38,95.08) scale(1.577,1.000)" style='font-family:"Liberation Serif","Times New Roman",serif;font-size:30.80px' fill="#000">=</text><text transform="translate(1199.17,93.71) scale(1.000,1)" style='font-family:"Liberation Serif","Times New Roman",serif;font-size:34.89px' fill="#000">0.04</text><line x1="1073.3" y1="105.70" x2="1127.8" y2="105.70" stroke="#7846D2" stroke-width="4"/><polygon points="1095.40,105.70 1100.80,98.70 1106.20,105.70 1100.80,112.70" fill="none" stroke="#7846D2" stroke-width="3.8" stroke-miterlimit="10"/><text transform="translate(1133.28,116.87) scale(1.180,1.000)" style='font-family:"Liberation Serif","Times New Roman",serif;font-size:31.95px;font-style:italic' fill="#000">α</text><text transform="translate(1163.38,118.68) scale(1.577,1.000)" style='font-family:"Liberation Serif","Times New Roman",serif;font-size:30.80px' fill="#000">=</text><text transform="translate(1199.17,117.31) scale(1.000,1)" style='font-family:"Liberation Serif","Times New Roman",serif;font-size:34.89px' fill="#000">0.06</text><line x1="1073.3" y1="129.30" x2="1127.8" y2="129.30" stroke="#FDC77F" stroke-width="4"/><rect x="1096.40" y="124.90" width="8.80" height="8.80" fill="none" stroke="#FDC77F" stroke-width="3.5"/><text transform="translate(1133.28,140.47) scale(1.180,1.000)" style='font-family:"Liberation Serif","Times New Roman",serif;font-size:31.95px;font-style:italic' fill="#000">α</text><text transform="translate(1163.38,142.28) scale(1.577,1.000)" style='font-family:"Liberation Serif","Times New Roman",serif;font-size:30.80px' fill="#000">=</text><text transform="translate(1199.17,140.91) scale(1.000,1)" style='font-family:"Liberation Serif","Times New Roman",serif;font-size:34.89px' fill="#000">0.08</text><line x1="1073.3" y1="152.90" x2="1127.8" y2="152.90" stroke="#7A00B8" stroke-width="4"/><polygon points="1094.91,149.50 1106.69,149.50 1100.80,159.70" fill="none" stroke="#7A00B8" stroke-width="4.4" stroke-miterlimit="10"/><text transform="translate(1133.28,164.07) scale(1.180,1.000)" style='font-family:"Liberation Serif","Times New Roman",serif;font-size:31.95px;font-style:italic' fill="#000">α</text><text transform="translate(1163.38,165.88) scale(1.577,1.000)" style='font-family:"Liberation Serif","Times New Roman",serif;font-size:30.80px' fill="#000">=</text><text transform="translate(1199.17,164.51) scale(1.000,1)" style='font-family:"Liberation Serif","Times New Roman",serif;font-size:34.89px' fill="#000">0.1</text>
<text transform="translate(34.45,28.29)" style='font-family:"Liberation Serif","Times New Roman",serif;font-size:35.29px' fill="#000">(a)</text>
<text transform="translate(934.45,28.29)" style='font-family:"Liberation Serif","Times New Roman",serif;font-size:35.29px' fill="#000">(b)</text>
<line x1="593.3" y1="505" x2="593.3" y2="58" stroke="#ff0000" stroke-width="1.4"/>
<polygon points="593.3,46 587.8,60.5 598.8,60.5" fill="#ff0000"/>
<line x1="621.1" y1="119.5" x2="621.1" y2="566" stroke="#000" stroke-width="1.6"/>
<polygon points="621.1,578.8 615.8,564.6 626.4,564.6" fill="#000"/>
<line x1="1466" y1="571" x2="1466" y2="126" stroke="#ff0000" stroke-width="1.4"/>
<polygon points="1466,114 1460.5,129 1471.5,129" fill="#ff0000"/>
<line x1="1490.7" y1="181" x2="1490.7" y2="626" stroke="#000" stroke-width="1.6"/>
<polygon points="1490.7,637.6 1485.4,624.2 1496,624.2" fill="#000"/>
<text transform="translate(556.68,266.78) scale(1.205,1.000)" style='font-family:"Liberation Serif","Times New Roman",serif;font-size:31.12px;font-style:italic' fill="#ff0000">α</text>
<text transform="translate(1432.19,264.57) scale(1.161,1.000)" style='font-family:"Liberation Serif","Times New Roman",serif;font-size:32.16px;font-style:italic' fill="#ff0000">α</text>
<text transform="translate(637.87,553.04) scale(0.928,1.000)" style='font-family:"DejaVu Math TeX Gyre","Latin Modern Math","Liberation Serif",serif;font-size:32.78px' fill="#000">𝒯</text>
<text transform="translate(1505.44,656.15) scale(0.950,1.000)" style='font-family:"DejaVu Math TeX Gyre","Latin Modern Math","Liberation Serif",serif;font-size:32.40px' fill="#000">𝒯</text>
<text transform="translate(423.08,739.00) scale(1.178,1.000)" style='font-family:"Liberation Serif","Times New Roman",serif;font-size:36.20px' fill="#000">Δ</text><text transform="translate(451.26,738.87) scale(1.076,1.000)" style='font-family:"Liberation Serif","Times New Roman",serif;font-size:31.14px;font-style:italic' fill="#000">p</text><text transform="translate(468.50,746.52) scale(1.233,1.300)" style='font-family:"Liberation Serif","Times New Roman",serif;font-size:37.95px' fill="#000">/</text><text transform="translate(483.18,739.00) scale(1.178,1.000)" style='font-family:"Liberation Serif","Times New Roman",serif;font-size:36.20px' fill="#000">Δ</text><text transform="translate(511.25,738.77) scale(1.070,1.000)" style='font-family:"Liberation Serif","Times New Roman",serif;font-size:31.14px;font-style:italic' fill="#000">p</text><text transform="translate(528.07,757.00) scale(0.951,1.000)" style='font-family:"Liberation Serif","Times New Roman",serif;font-size:25.96px;font-style:italic' fill="#000">H</text><text transform="translate(546.21,759.45) scale(1.063,1.000)" style='font-family:"Liberation Serif","Times New Roman",serif;font-size:15.59px;font-style:italic' fill="#000">o</text><text transform="translate(555.00,758.57) scale(1.424,1.000)" style='font-family:"Liberation Serif","Times New Roman",serif;font-size:24.00px' fill="#000">=</text><text transform="translate(573.33,757.00) scale(0.903,1.000)" style='font-family:"Liberation Serif","Times New Roman",serif;font-size:24.84px' fill="#000">1</text><text transform="translate(588.17,757.00) scale(0.879,1.000)" style='font-family:"Liberation Serif","Times New Roman",serif;font-size:26.36px;font-style:italic' fill="#000">A</text><text transform="translate(592.54,749.18) scale(1.098,1.000)" style='font-family:"Liberation Serif","Times New Roman",serif;font-size:30.77px' fill="#000">˚</text>
<text transform="translate(1295.52,738.30) scale(1.197,1.000)" style='font-family:"Liberation Serif","Times New Roman",serif;font-size:36.81px' fill="#000">Δ</text><text transform="translate(1324.91,737.92) scale(1.060,1.000)" style='font-family:"Liberation Serif","Times New Roman",serif;font-size:32.31px;font-style:italic' fill="#000">p</text><text transform="translate(1342.50,746.11) scale(1.239,1.300)" style='font-family:"Liberation Serif","Times New Roman",serif;font-size:38.64px' fill="#000">/</text><text transform="translate(1357.42,738.30) scale(1.197,1.000)" style='font-family:"Liberation Serif","Times New Roman",serif;font-size:36.81px' fill="#000">Δ</text><text transform="translate(1386.35,737.98) scale(1.094,1.000)" style='font-family:"Liberation Serif","Times New Roman",serif;font-size:32.01px;font-style:italic' fill="#000">p</text><text transform="translate(1403.68,756.10) scale(1.025,1.000)" style='font-family:"Liberation Serif","Times New Roman",serif;font-size:25.20px;font-style:italic' fill="#000">H</text><text transform="translate(1422.07,759.54) scale(1.092,1.000)" style='font-family:"Liberation Serif","Times New Roman",serif;font-size:16.43px;font-style:italic' fill="#000">o</text><text transform="translate(1431.58,757.72) scale(1.517,1.000)" style='font-family:"Liberation Serif","Times New Roman",serif;font-size:22.80px' fill="#000">=</text><text transform="translate(1450.13,756.10) scale(0.920,1.000)" style='font-family:"Liberation Serif","Times New Roman",serif;font-size:24.39px' fill="#000">1</text><text transform="translate(1465.29,756.10) scale(0.945,1.000)" style='font-family:"Liberation Serif","Times New Roman",serif;font-size:24.99px;font-style:italic' fill="#000">A</text><text transform="translate(1469.44,748.68) scale(1.141,1.000)" style='font-family:"Liberation Serif","Times New Roman",serif;font-size:32.28px' fill="#000">˚</text>
<g transform="translate(27.5,449) rotate(-90)"><text transform="translate(-1.55,0.10) scale(1.512,1.000)" style='font-family:"Liberation Serif","Times New Roman",serif;font-size:28.44px;font-style:italic' fill="#000">m</text><text transform="translate(8.43,-2.80)" style='font-family:"Liberation Serif","Times New Roman",serif;font-size:30.20px' fill="#000">˙</text><text transform="translate(42.82,-0.92) scale(0.915,1.300)" style='font-family:"Liberation Serif","Times New Roman",serif;font-size:26.81px' fill="#000">(</text><text transform="translate(51.71,-0.03) scale(0.946,1.000)" style='font-family:"Liberation Serif","Times New Roman",serif;font-size:33.49px' fill="#000">10</text><text transform="translate(83.69,-8.67) scale(1.147,1.000)" style='font-family:"Liberation Serif","Times New Roman",serif;font-size:28.11px' fill="#000">−</text><text transform="translate(102.19,-12.62) scale(1.074,1.000)" style='font-family:"Liberation Serif","Times New Roman",serif;font-size:22.38px' fill="#000">10</text><text transform="translate(128.40,-0.92) scale(0.813,1.300)" style='font-family:"Liberation Serif","Times New Roman",serif;font-size:26.81px' fill="#000">)</text><text transform="translate(149.59,-1.13) scale(1.217,1.000)" style='font-family:"Liberation Serif","Times New Roman",serif;font-size:27.02px' fill="#000">g</text><text transform="translate(168.10,7.33) scale(1.266,1.300)" style='font-family:"Liberation Serif","Times New Roman",serif;font-size:37.26px' fill="#000">/</text><text transform="translate(181.73,-0.21) scale(1.143,1.000)" style='font-family:"Liberation Serif","Times New Roman",serif;font-size:31.40px' fill="#000">s</text></g>
<g transform="translate(965.3,571.7) rotate(-90)"><text transform="translate(0.23,0.39) scale(1.157,1.300)" style='font-family:"Liberation Serif","Times New Roman",serif;font-size:28.93px' fill="#000">(</text><text transform="translate(9.50,0.10) scale(1.516,1.000)" style='font-family:"Liberation Serif","Times New Roman",serif;font-size:29.29px;font-style:italic' fill="#000">m</text><text transform="translate(18.93,-3.60)" style='font-family:"Liberation Serif","Times New Roman",serif;font-size:30.20px' fill="#000">˙</text><text transform="translate(38.64,11.76) scale(0.985,1.000)" style='font-family:"Liberation Serif","Times New Roman",serif;font-size:34.88px' fill="#000">flexible</text><text transform="translate(153.30,-1.27) scale(1.430,1.000)" style='font-family:"Liberation Serif","Times New Roman",serif;font-size:28.11px' fill="#000">−</text><text transform="translate(186.36,0.10) scale(1.363,1.000)" style='font-family:"Liberation Serif","Times New Roman",serif;font-size:29.29px;font-style:italic' fill="#000">m</text><text transform="translate(194.63,-3.60)" style='font-family:"Liberation Serif","Times New Roman",serif;font-size:30.20px' fill="#000">˙</text><text transform="translate(215.69,12.19) scale(1.055,1.000)" style='font-family:"Liberation Serif","Times New Roman",serif;font-size:33.86px' fill="#000">rigid</text><text transform="translate(286.83,0.39) scale(1.144,1.300)" style='font-family:"Liberation Serif","Times New Roman",serif;font-size:28.93px' fill="#000">)</text><text transform="translate(300.50,7.12) scale(1.452,1.300)" style='font-family:"Liberation Serif","Times New Roman",serif;font-size:38.18px' fill="#000">/</text><text transform="translate(314.23,0.10) scale(1.580,1.000)" style='font-family:"Liberation Serif","Times New Roman",serif;font-size:29.29px;font-style:italic' fill="#000">m</text><text transform="translate(323.83,-3.60)" style='font-family:"Liberation Serif","Times New Roman",serif;font-size:30.20px' fill="#000">˙</text><text transform="translate(345.01,12.19) scale(1.021,1.000)" style='font-family:"Liberation Serif","Times New Roman",serif;font-size:33.86px' fill="#000">rigid</text><text transform="translate(416.55,0.39) scale(0.902,1.300)" style='font-family:"Liberation Serif","Times New Roman",serif;font-size:28.93px' fill="#000">(</text><text transform="translate(426.61,1.36) scale(1.015,1.300)" style='font-family:"Liberation Serif","Times New Roman",serif;font-size:31.30px' fill="#000">%</text><text transform="translate(455.73,0.39) scale(0.821,1.300)" style='font-family:"Liberation Serif","Times New Roman",serif;font-size:28.93px' fill="#000">)</text></g>
</svg></body></html>
